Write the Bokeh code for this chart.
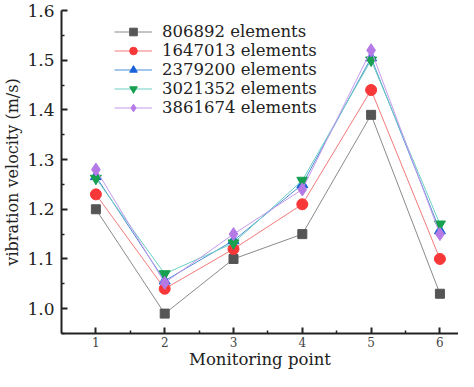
from bokeh.plotting import figure
from bokeh.models import FixedTicker, Legend, LegendItem, Range1d, PrintfTickFormatter
from bokeh.embed import file_html
from bokeh.resources import INLINE

points = [1, 2, 3, 4, 5, 6]
tick_labels = ["1", "2", "3", "4", "5", "6"]
series_names = ["806892 elements", "1647013 elements", "2379200 elements",
                "3021352 elements", "3861674 elements"]
s806892 = [1.20, 0.99, 1.10, 1.15, 1.39, 1.03]
s1647013 = [1.23, 1.04, 1.12, 1.21, 1.44, 1.10]
s2379200 = [1.266, 1.056, 1.137, 1.25, 1.505, 1.157]
s3021352 = [1.262, 1.07, 1.132, 1.258, 1.50, 1.17]
s3861674 = [1.28, 1.052, 1.15, 1.24, 1.52, 1.15]
y_ticks = [1.0, 1.1, 1.2, 1.3, 1.4, 1.5, 1.6]
x_title = "Monitoring point"
y_title = "vibration velocity (m/s)"

series = [s806892, s1647013, s2379200, s3021352, s3861674]
marker_colors = ["#555555", "#F83838", "#1A62DA", "#17A050", "#B67AE6"]
line_colors = ["#8A8A8A", "#F27A7A", "#4C8FD6", "#6CCFC2", "#C69AEE"]
markers = ["square", "circle", "triangle", "inverted_triangle", "diamond"]
sizes = [9, 11, 11, 11, 13]

SERIF = "DejaVu Serif"

p = figure(width=458, height=371, output_backend="svg", toolbar_location=None,
           x_range=Range1d(0.5, 6.27), y_range=Range1d(0.95, 1.6),
           min_border_left=57, min_border_right=0, min_border_top=10,
           min_border_bottom=35)
p.outline_line_color = None
p.grid.visible = False
p.background_fill_color = "white"

items = []
for name, ys, mc, lc, mk, sz in zip(series_names, series, marker_colors,
                                    line_colors, markers, sizes):
    r1 = p.line(points, ys, line_color=lc, line_width=1)
    r2 = p.scatter(points, ys, marker=mk, size=sz, fill_color=mc,
                   line_color=mc)
    items.append(LegendItem(label=name, renderers=[r1, r2]))

legend = Legend(items=items, location=(53, 216))
legend.border_line_color = None
legend.background_fill_alpha = 0
legend.padding = 0
legend.margin = 0
legend.spacing = 0
legend.glyph_width = 38
legend.glyph_height = 19
legend.label_height = 19
legend.label_standoff = 10
legend.label_text_font = SERIF
legend.label_text_font_size = "16.5px"
legend.label_text_color = "#222222"
p.add_layout(legend)

xa = p.xaxis[0]
xa.ticker = FixedTicker(ticks=points, minor_ticks=[1.5, 2.5, 3.5, 4.5, 5.5])
xa.major_label_overrides = {pt: lab for pt, lab in zip(points, tick_labels)}
xa.axis_label = x_title
ya = p.yaxis[0]
ya.ticker = FixedTicker(ticks=y_ticks,
                        minor_ticks=[0.95, 1.05, 1.15, 1.25, 1.35, 1.45, 1.55])
ya.formatter = PrintfTickFormatter(format="%.1f")
ya.axis_label = y_title

for ax in (xa, ya):
    ax.axis_line_color = "#222222"
    ax.axis_line_width = 2
    ax.major_tick_line_color = "#222222"
    ax.minor_tick_line_color = "#222222"
    ax.major_tick_line_width = 2
    ax.minor_tick_line_width = 1.5
    ax.major_tick_in = 6
    ax.major_tick_out = 0
    ax.minor_tick_in = 3
    ax.minor_tick_out = 0
    ax.major_label_text_font = SERIF
    ax.axis_label_text_font = SERIF
    ax.axis_label_text_font_style = "normal"
    ax.axis_label_text_color = "#222222"

xa.major_label_text_font_size = "12px"
xa.major_label_text_color = "#444444"
xa.major_label_standoff = 3
xa.axis_label_text_font_size = "16.5px"
xa.axis_label_standoff = 0

ya.major_label_text_font_size = "17px"
ya.major_label_text_color = "#222222"
ya.major_label_standoff = 7
ya.axis_label_text_font_size = "16px"
ya.axis_label_standoff = 2

open("out.html", "w").write(file_html(p, INLINE))
